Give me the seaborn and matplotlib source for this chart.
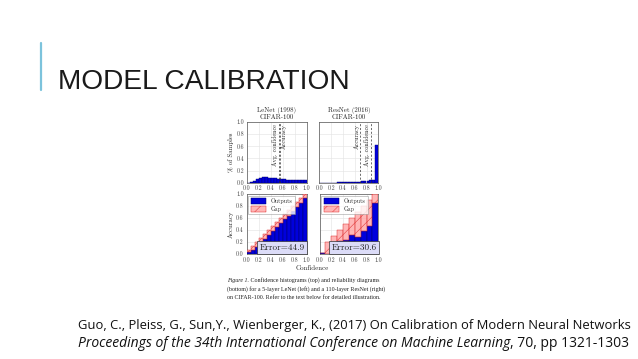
import numpy as np
import pandas as pd
import matplotlib
matplotlib.use("Agg")
import matplotlib.pyplot as plt
import seaborn as sns
from matplotlib.patches import Patch

# ---------------- data ----------------
n_hist_bins = 20
lenet_hist = [0.0, 0.005, 0.03, 0.065, 0.085, 0.092, 0.09, 0.085, 0.078, 0.07,
              0.064, 0.058, 0.054, 0.05, 0.048, 0.046, 0.044, 0.043, 0.042, 0.042]
resnet_hist = [0.0, 0.0, 0.0, 0.0, 0.002, 0.003, 0.004, 0.005, 0.006, 0.008,
               0.01, 0.012, 0.014, 0.017, 0.02, 0.024, 0.03, 0.038, 0.05, 0.62]

lenet_acc = [0.03, 0.06, 0.12, 0.18, 0.25, 0.32, 0.38, 0.45, 0.52, 0.58,
             0.64, 0.72, 0.78, 0.85, 0.94]
lenet_conf = [0.067, 0.133, 0.2, 0.267, 0.333, 0.4, 0.467, 0.533, 0.6, 0.667,
              0.733, 0.8, 0.867, 0.933, 1.0]

resnet_acc = [0.02, 0.0, 0.13, 0.21, 0.24, 0.32, 0.29, 0.38, 0.46, 0.85]
resnet_conf = [0.02, 0.2, 0.3, 0.4, 0.5, 0.6, 0.7, 0.8, 0.9, 1.0]

lenet_lines = {"Avg. confidence": 0.53, "Accuracy": 0.551}
resnet_lines = {"Accuracy": 0.694, "Avg. confidence": 0.88}
errors = ["Error=44.9", "Error=30.6"]
titles = ["LeNet (1998)\nCIFAR-100", "ResNet (2016)\nCIFAR-100"]
ticks = [0.0, 0.2, 0.4, 0.6, 0.8, 1.0]
tick_labels = ["0.0", "0.2", "0.4", "0.6", "0.8", "1.0"]

slide_title = "MODEL CALIBRATION"
cite1 = "Guo, C., Pleiss, G., Sun,Y., Wienberger, K., (2017) On Calibration of Modern Neural Networks"
cite2_it = "Proceedings of the 34th International Conference on Machine Learning"
cite2_rm = ", 70, pp 1321-1303"
cap_it = "Figure 1."
cap_lines = [" Confidence histograms (top) and reliability diagrams",
             "(bottom) for a 5-layer LeNet (left) and a 110-layer ResNet (right)",
             "on CIFAR-100. Refer to the text below for detailed illustration."]

# ---------------- style ----------------
sns.set_style("whitegrid", {"grid.color": "#e2e2e2", "axes.edgecolor": "#555555"})
plt.rcParams["font.family"] = ["cmr10", "DejaVu Serif"]
plt.rcParams["axes.formatter.use_mathtext"] = True
plt.rcParams["hatch.linewidth"] = 0.35
plt.rcParams["hatch.color"] = "#e03030"

W, H = 638, 359
fig = plt.figure(figsize=(W / 100, H / 100), dpi=100)
fig.patch.set_facecolor("white")

BLUE = "#0000dc"
DBLUE = "#00006e"
PINK = (1.0, 0.62, 0.62, 0.75)


def ax_px(x0, y0, x1, y1):
    return fig.add_axes([x0 / W, 1 - y1 / H, (x1 - x0) / W, (y1 - y0) / H])


ax_tl = ax_px(246.7, 121.7, 306.7, 182.7)
ax_tr = ax_px(319.3, 121.7, 378.3, 182.7)
ax_bl = ax_px(246.5, 194, 306.7, 254)
ax_br = ax_px(319.5, 194, 378.3, 254)


def style_axes(ax, ylab=None):
    ax.set_xlim(0, 1)
    ax.set_ylim(0, 1)
    ax.set_xticks(ticks)
    ax.set_yticks(ticks)
    ax.set_xticklabels(tick_labels, fontsize=4.3, color="#444444")
    if ylab is None:
        ax.set_yticklabels([])
        ax.set_ylabel("")
    else:
        ax.set_yticklabels(tick_labels, fontsize=4.3, color="#444444")
        ax.set_ylabel(ylab, fontsize=4.8, labelpad=2)
    ax.tick_params(length=0, pad=2)
    ax.grid(True, lw=0.4, color="#e2e2e2")
    for s in ax.spines.values():
        s.set_linewidth(0.5)
    ax.set_xlabel("")


def bin_centers(n):
    e = np.linspace(0, 1, n + 1)
    return (e[:-1] + e[1:]) / 2


for ax, hv, title, lines, ylab in [
        (ax_tl, lenet_hist, titles[0], lenet_lines, "% of Samples"),
        (ax_tr, resnet_hist, titles[1], resnet_lines, None)]:
    df = pd.DataFrame({"conf": bin_centers(n_hist_bins), "frac": hv})
    sns.histplot(data=df, x="conf", weights="frac", bins=n_hist_bins,
                 binrange=(0, 1), ax=ax, color=BLUE, alpha=1, edgecolor=DBLUE,
                 linewidth=0.3)
    style_axes(ax, ylab)
    ax.set_title(title, fontsize=4.9, pad=2, linespacing=1.0)
    for lbl, xv in lines.items():
        ax.axvline(xv, ls=(0, (3, 2.5)), color="#333333", lw=0.5)
    items = list(lines.items())
    if ax is ax_tl:
        ax.text(items[0][1] - 0.015, 0.96, items[0][0], rotation=90, ha="right",
                va="top", fontsize=4.4)
        ax.text(items[1][1] + 0.015, 0.96, items[1][0], rotation=90, ha="left",
                va="top", fontsize=4.4)
    else:
        for lbl, xv in items:
            ax.text(xv - 0.015, 0.96, lbl, rotation=90, ha="right", va="top",
                    fontsize=4.4)

for ax, acc, conf, err, ylab in [
        (ax_bl, lenet_acc, lenet_conf, errors[0], "Accuracy"),
        (ax_br, resnet_acc, resnet_conf, errors[1], None)]:
    n = len(acc)
    centers = bin_centers(n)
    width = 1.0 / n
    df = pd.DataFrame({"conf": centers, "acc": acc})
    sns.histplot(data=df, x="conf", weights="acc", bins=n, binrange=(0, 1),
                 ax=ax, color=BLUE, alpha=1, edgecolor=DBLUE, linewidth=0.35,
                 zorder=3)
    gap = np.array(conf) - np.array(acc)
    ax.bar(centers, gap, bottom=acc, width=width, facecolor=PINK,
           edgecolor="#e03030", hatch="///", linewidth=0.35, zorder=3)
    style_axes(ax, ylab)
    handles = [Patch(facecolor=BLUE, edgecolor=DBLUE, lw=0.35, label="Outputs"),
               Patch(facecolor=PINK, edgecolor="#e03030", hatch="///", lw=0.35,
                     label="Gap")]
    leg = ax.legend(handles=handles, loc="upper left", fontsize=4.3,
                    frameon=True, fancybox=False, handlelength=2.6,
                    handleheight=1.0, borderpad=0.4, labelspacing=0.3,
                    borderaxespad=0.3, edgecolor="#888888")
    leg.get_frame().set_linewidth(0.4)
    leg.set_zorder(5)
    ax.text(0.97, 0.04, err, transform=ax.transAxes, ha="right", va="bottom",
            fontsize=6.6, zorder=6,
            bbox=dict(boxstyle="square,pad=0.25", facecolor="#dcdcf8",
                      edgecolor="#333333", lw=0.5))

fig.text(312.5 / W, 1 - 268 / H, "Confidence", ha="center", va="center",
         fontsize=5)

renderer = fig.canvas.get_renderer()


def run_text(x, y, runs, **kw):
    arts = []
    for s, style, fam in runs:
        t = fig.text(x / W, 1 - y / H, s, style=style, family=fam,
                     va="baseline", ha="left", **kw)
        bb = t.get_window_extent(renderer)
        x = bb.x1
        arts.append(t)
    return x, arts


def fitted_size(s, fam, style, target, ref=10.0, **kw):
    t = fig.text(0, 0, s, family=fam, style=style, fontsize=ref, **kw)
    w = t.get_window_extent(renderer).width
    t.remove()
    return ref * target / w


# caption
cap_font = ["Liberation Serif", "DejaVu Serif"]
cap_fs = fitted_size(cap_lines[1], cap_font, "normal", 383 - 227)
run_text(227, 282, [(cap_it, "italic", cap_font), (cap_lines[0], "normal", cap_font)],
         fontsize=cap_fs, color="#222222")
run_text(227, 290.5, [(cap_lines[1], "normal", cap_font)], fontsize=cap_fs, color="#222222")
run_text(227, 299, [(cap_lines[2], "normal", cap_font)], fontsize=cap_fs, color="#222222")

# slide title
tfam = ["Liberation Sans", "DejaVu Sans"]
tfs = fitted_size(slide_title, tfam, "normal", 350 - 58, fontstretch="condensed")
fig.text(58 / W, 1 - 89 / H, slide_title, family=tfam, fontstretch="condensed",
         fontsize=tfs, va="baseline", ha="left", color="#1a1a1a")

# accent bar
fig.add_artist(plt.Line2D([40.5 / W, 40.5 / W], [1 - 43 / H, 1 - 90 / H],
                          color="#7cc3dc", lw=1.6))

# citation
cfont = ["Open Sans", "DejaVu Sans"]
cfs = fitted_size(cite1, cfont, "normal", 632 - 78)
fig.text(78 / W, 1 - 329 / H, cite1, family=cfont, fontsize=cfs,
         va="baseline", ha="left", color="#111111")
t_it = fig.text(0, 0, cite2_it + cite2_rm, family=cfont, style="italic", fontsize=10)
w2 = t_it.get_window_extent(renderer).width
t_it.remove()
cfs2 = 10 * (624 - 78) / w2
run_text(78, 347, [(cite2_it, "italic", cfont), (cite2_rm, "normal", cfont)],
         fontsize=cfs2, color="#111111")

fig.savefig("out.png", dpi=100, facecolor="white")
